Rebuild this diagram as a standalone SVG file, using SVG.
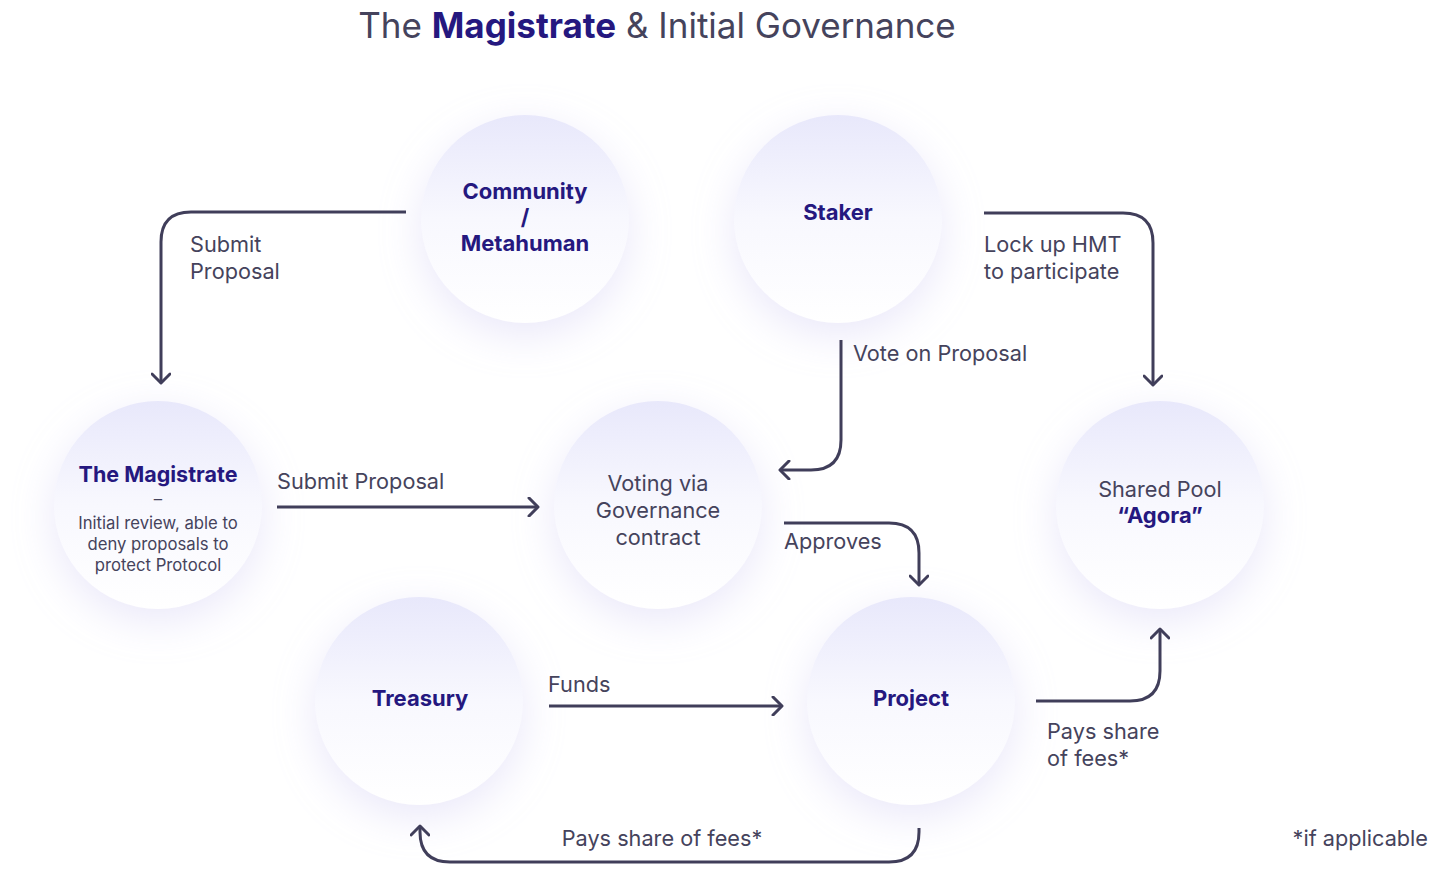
<svg xmlns="http://www.w3.org/2000/svg" width="1450" height="892" viewBox="0 0 1450 892">
<defs>
<linearGradient id="cg" x1="0" y1="0" x2="0" y2="1">
<stop offset="0" stop-color="#e8e8fb"/>
<stop offset="0.5" stop-color="#f8f8fe"/>
<stop offset="1" stop-color="#ffffff"/>
</linearGradient>
<filter id="sh" x="-50%" y="-50%" width="200%" height="210%">
<feDropShadow dx="0" dy="12" stdDeviation="20" flood-color="#cbc5f2" flood-opacity="0.4"/>
</filter>
<marker id="ah" markerWidth="20" markerHeight="20" refX="10" refY="10" orient="auto" markerUnits="userSpaceOnUse">
<path d="M2,1 L11,10 L2,19" fill="none" stroke="#403e5a" stroke-width="3" stroke-linecap="round" stroke-linejoin="round"/>
</marker>
<style>
.node circle{fill:url(#cg);filter:url(#sh)}
.b{font-family:Inter,"Liberation Sans",sans-serif;font-weight:700;fill:#25187f;font-size:22px;text-anchor:middle}
.r{font-family:Inter,"Liberation Sans",sans-serif;font-weight:400;fill:#45435c;font-size:21.7px}
.s{font-family:Inter,"Liberation Sans",sans-serif;font-weight:400;fill:#45435c;font-size:16.7px;text-anchor:middle}
.c{text-anchor:middle}
.ln{fill:none;stroke:#403e5a;stroke-width:3;marker-end:url(#ah)}
</style>
</defs>
<rect width="1450" height="892" fill="#ffffff"/>
<text x="657" y="38" text-anchor="middle" font-family="Inter,'Liberation Sans',sans-serif" font-size="35" fill="#45435c">The <tspan font-weight="700" fill="#25187f">Magistrate</tspan> &amp; Initial Governance</text>

<g id="community" class="node"><circle cx="525" cy="219" r="104"/>
<text class="b" x="525" y="199">Community</text><text class="b" x="525" y="225">/</text><text class="b" x="525" y="251">Metahuman</text></g>
<g id="staker" class="node"><circle cx="838" cy="219" r="104"/>
<text class="b" x="838" y="220">Staker</text></g>
<g id="magistrate" class="node"><circle cx="158" cy="505" r="104"/>
<text class="b" x="158" y="482" style="font-size:21.5px">The Magistrate</text>
<text class="s" x="158" y="505">–</text>
<text class="s" x="158" y="529">Initial review, able to</text>
<text class="s" x="158" y="550">deny proposals to</text>
<text class="s" x="158" y="571">protect Protocol</text></g>
<g id="voting" class="node"><circle cx="658" cy="505" r="104"/>
<text class="r c" x="658" y="491">Voting via</text><text class="r c" x="658" y="518">Governance</text><text class="r c" x="658" y="545">contract</text></g>
<g id="agora" class="node"><circle cx="1160" cy="505" r="104"/>
<text class="r c" x="1160" y="497">Shared Pool</text><text class="b" x="1160" y="523">“Agora”</text></g>
<g id="treasury" class="node"><circle cx="419" cy="701" r="104"/>
<text class="b" x="420" y="706">Treasury</text></g>
<g id="project" class="node"><circle cx="911" cy="701" r="104"/>
<text class="b" x="911" y="706">Project</text></g>

<g id="connectors">
<path class="ln" d="M406,212 H191 Q161,212 161,242 V382"/>
<path class="ln" d="M984,213 H1123 Q1153,213 1153,243 V384"/>
<path class="ln" d="M841,340 V440 Q841,470 811,470 H781"/>
<path class="ln" d="M277,507 H537"/>
<path class="ln" d="M784,523 H889 Q919,523 919,553 V584"/>
<path class="ln" d="M549,706 H781"/>
<path class="ln" d="M1036,701 H1130 Q1160,701 1160,671 V630"/>
<path class="ln" d="M919,828 V832 Q919,862 889,862 H450 Q420,862 420,832 V827"/>
</g>

<g id="labels">
<text class="r" x="190" y="252">Submit</text><text class="r" x="190" y="279">Proposal</text>
<text class="r" x="984" y="252">Lock up HMT</text><text class="r" x="984" y="279">to participate</text>
<text class="r" x="853" y="361">Vote on Proposal</text>
<text class="r" x="277" y="489">Submit Proposal</text>
<text class="r" x="784" y="549">Approves</text>
<text class="r" x="548" y="692">Funds</text>
<text class="r" x="1047" y="739">Pays share</text><text class="r" x="1047" y="766">of fees*</text>
<text class="r c" x="662" y="846">Pays share of fees*</text>
<text class="r" x="1428" y="846" text-anchor="end">*if applicable</text>
</g>
</svg>
